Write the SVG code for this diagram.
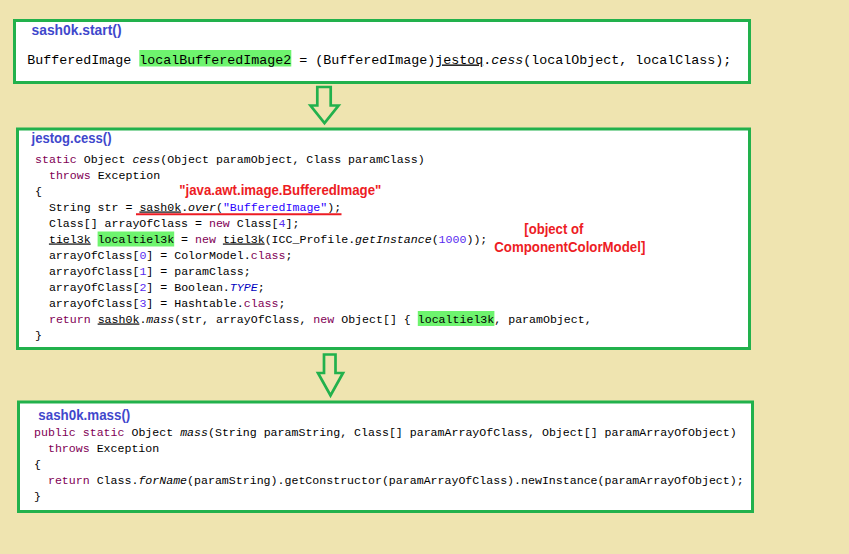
<svg xmlns="http://www.w3.org/2000/svg" width="849" height="554" viewBox="0 0 849 554">
<style>
.box{fill:#ffffff;stroke:#22b14c;stroke-width:3}
.arrow{fill:none;stroke:#22b14c;stroke-width:2.7;stroke-linejoin:miter}
.title{font-family:"Liberation Sans",Arial,sans-serif;font-weight:bold;font-size:15px;fill:#3f48cc}
.code{font-family:"Liberation Mono","Courier New",monospace;font-size:11.6px;fill:#000}
.code1{font-family:"Liberation Mono","Courier New",monospace;font-size:13.33px;fill:#000}
.kw{fill:#7f0055}
.num{fill:#5a2cf0}
.str{fill:#2a00ff}
.it{font-style:italic}
.cst{fill:#0000c0;font-style:italic}
.ul{text-decoration:underline}
.hl{fill:#6ef46e}
.note{font-family:"Liberation Sans",Arial,sans-serif;font-weight:bold;font-size:14px;fill:#ed1c24}
</style>
<rect width="849" height="554" fill="#efe4b0"/>

<g id="connectors">
<polygon class="arrow" points="317.3,87 330.7,87 330.7,105.5 338.5,105.5 324.5,123 310.5,105.5 317.3,105.5"/>
<polygon class="arrow" points="324,354.5 335.5,354.5 335.5,373 343,373 330.5,395.5 318,373 324,373"/>
</g>

<g id="node-start">
<rect class="box" x="14.5" y="20.5" width="735" height="62"/>
<text class="title" x="31.5" y="35" textLength="90" lengthAdjust="spacingAndGlyphs">sash0k.start()</text>
<rect class="hl" x="139.3" y="50" width="152" height="16.5"/>
<text class="code1" x="27.3" y="63.5" xml:space="preserve">BufferedImage localBufferedImage2 = (BufferedImage)<tspan class="ul">jestoq</tspan>.<tspan class="it">cess</tspan>(localObject, localClass);</text>
</g>

<g id="node-cess">
<rect class="box" x="17.5" y="129" width="732" height="219.5"/>
<text class="title" x="31.5" y="142.7" textLength="80" lengthAdjust="spacingAndGlyphs">jestog.cess()</text>
<rect class="hl" x="97.6" y="231.5" width="76.6" height="15"/>
<rect class="hl" x="417.8" y="311" width="76.6" height="15"/>
<text class="code" xml:space="preserve"><tspan x="35" y="162.5"><tspan class="kw">static</tspan> Object <tspan class="it">cess</tspan>(Object paramObject, Class paramClass)</tspan><tspan x="35" y="178.5">  <tspan class="kw">throws</tspan> Exception</tspan><tspan x="35" y="194.5">{</tspan><tspan x="35" y="210.5">  String str = <tspan class="ul">sash0k</tspan>.<tspan class="it">over</tspan>(<tspan class="str">"BufferedImage"</tspan>);</tspan><tspan x="35" y="226.5">  Class[] arrayOfClass = <tspan class="kw">new</tspan> Class[<tspan class="num">4</tspan>];</tspan><tspan x="35" y="242.5">  <tspan class="ul">tiel3k</tspan> localtiel3k = <tspan class="kw">new</tspan> <tspan class="ul">tiel3k</tspan>(ICC_Profile.<tspan class="it">getInstance</tspan>(<tspan class="num">1000</tspan>));</tspan><tspan x="35" y="258.5">  arrayOfClass[<tspan class="num">0</tspan>] = ColorModel.<tspan class="kw">class</tspan>;</tspan><tspan x="35" y="274.5">  arrayOfClass[<tspan class="num">1</tspan>] = paramClass;</tspan><tspan x="35" y="290.5">  arrayOfClass[<tspan class="num">2</tspan>] = Boolean.<tspan class="cst">TYPE</tspan>;</tspan><tspan x="35" y="306.5">  arrayOfClass[<tspan class="num">3</tspan>] = Hashtable.<tspan class="kw">class</tspan>;</tspan><tspan x="35" y="322.5">  <tspan class="kw">return</tspan> <tspan class="ul">sash0k</tspan>.<tspan class="it">mass</tspan>(str, arrayOfClass, <tspan class="kw">new</tspan> Object[] { localtiel3k, paramObject,</tspan><tspan x="35" y="338.5">}</tspan></text>
<line x1="136" y1="214.3" x2="341.5" y2="214.3" stroke="#ed1c24" stroke-width="2"/>
<text class="note" x="179.3" y="195" textLength="202" lengthAdjust="spacingAndGlyphs">"java.awt.image.BufferedImage"</text>
<text class="note" x="524.3" y="233.5" textLength="59" lengthAdjust="spacingAndGlyphs">[object of</text>
<text class="note" x="494.3" y="251.7" textLength="151" lengthAdjust="spacingAndGlyphs">ComponentColorModel]</text>
</g>

<g id="node-mass">
<rect class="box" x="18.5" y="402" width="734" height="109.5"/>
<text class="title" x="38.3" y="420" textLength="92" lengthAdjust="spacingAndGlyphs">sash0k.mass()</text>
<text class="code" xml:space="preserve"><tspan x="34" y="436"><tspan class="kw">public</tspan> <tspan class="kw">static</tspan> Object <tspan class="it">mass</tspan>(String paramString, Class[] paramArrayOfClass, Object[] paramArrayOfObject)</tspan><tspan x="34" y="452">  <tspan class="kw">throws</tspan> Exception</tspan><tspan x="34" y="468">{</tspan><tspan x="34" y="484">  <tspan class="kw">return</tspan> Class.<tspan class="it">forName</tspan>(paramString).getConstructor(paramArrayOfClass).newInstance(paramArrayOfObject);</tspan><tspan x="34" y="500">}</tspan></text>
</g>
</svg>
